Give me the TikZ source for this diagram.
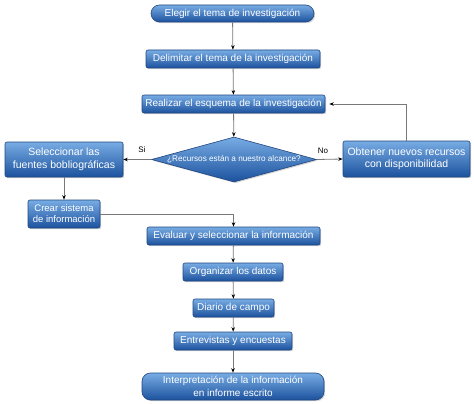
\documentclass[tikz,border=0pt]{standalone}
\usepackage{fontspec}
\setmainfont{Liberation Sans}
\usetikzlibrary{shapes.geometric,arrows.meta,shadows}
\definecolor{btop}{RGB}{120,172,228}
\definecolor{bbot}{RGB}{28,82,158}
\definecolor{bline}{RGB}{32,70,128}
\definecolor{conn}{RGB}{120,120,120}
\tikzset{
  boxbase/.style={draw=bline, line width=0.6pt, top color=btop, bottom color=bbot,
    text=white, inner sep=1pt, align=center,
    drop shadow={shadow xshift=1.2pt, shadow yshift=-1.2pt, opacity=0.35}},
  stepbox/.style={boxbase, rounded corners=2pt, font=\fontsize{10}{12.5}\selectfont},
  pillbox/.style={boxbase, rounded corners=8.5pt, font=\fontsize{10}{13}\selectfont},
  decbox/.style={boxbase, diamond, inner sep=0pt},
  conarrow/.style={draw=conn, line width=0.8pt, -{Stealth[black,length=4.5pt,width=3.5pt]}},
  lbl/.style={font=\fontsize{8}{9}\selectfont, text=black, inner sep=0pt}
}
\begin{document}
\begin{tikzpicture}[x=1pt,y=-1pt]
\useasboundingbox (0,0) rectangle (474,404);
\node[pillbox, minimum width=163pt, minimum height=17pt] (elegir) at (232.5,13.5) {Elegir el tema de investigación};
\node[stepbox, minimum width=174pt, minimum height=18pt] (delim) at (233,59) {Delimitar el tema de la investigación};
\node[stepbox, minimum width=183pt, minimum height=18pt] (real) at (233.5,104) {Realizar el esquema de la investigación};
\node[decbox, minimum width=165pt, minimum height=45pt] (dia) at (234,159.5) {};
\node[text=white, inner sep=0pt, font=\fontsize{8.2}{9}\selectfont] (diatext) at (dia.center) {¿Recursos están a nuestro alcance?};
\node[stepbox, minimum width=118pt, minimum height=35pt, font=\fontsize{10.5}{12.5}\selectfont] (selec) at (64,159.5) {Seleccionar las\\fuentes bobliográficas};
\node[stepbox, minimum width=127pt, minimum height=36pt, font=\fontsize{10.5}{12.5}\selectfont] (obt) at (406.5,159) {Obtener nuevos recursos\\con disponibilidad};
\node[stepbox, minimum width=72pt, minimum height=28pt, font=\fontsize{9.5}{11}\selectfont] (crear) at (64,214) {Crear sistema\\de información};
\node[stepbox, minimum width=173pt, minimum height=18pt] (eval) at (233.5,236) {Evaluar y seleccionar la información};
\node[stepbox, minimum width=100pt, minimum height=18pt] (org) at (233,272) {Organizar los datos};
\node[stepbox, minimum width=81pt, minimum height=18pt] (diario) at (233.5,308) {Diario de campo};
\node[stepbox, minimum width=118pt, minimum height=18pt] (entre) at (233,341) {Entrevistas y encuestas};
\node[pillbox, minimum width=182pt, minimum height=27pt] (interp) at (233,386.5) {Interpretación de la información\\en informe escrito};
\node[lbl] (si) at (142,150) {Si};
\node[lbl] (no) at (323,151) {No};
\coordinate (fbk) at (406.5,104);
\draw[conarrow] (elegir) -- (delim);
\draw[conarrow] (delim) -- (real);
\draw[conarrow] (real) -- (dia);
\draw[conarrow] (dia.west) -- (selec.east);
\draw[conarrow] (dia.east) -- (obt.west);
\draw[conarrow, shorten >=4pt] (obt.north) -- (fbk) -- (real.east);
\draw[conarrow] (selec) -- (crear);
\draw[conarrow] (crear.east) -| (eval.north);
\draw[conarrow] (eval) -- (org);
\draw[conarrow] (org) -- (diario);
\draw[conarrow] (diario) -- (entre);
\draw[conarrow] (entre) -- (interp);
\end{tikzpicture}
\end{document}
